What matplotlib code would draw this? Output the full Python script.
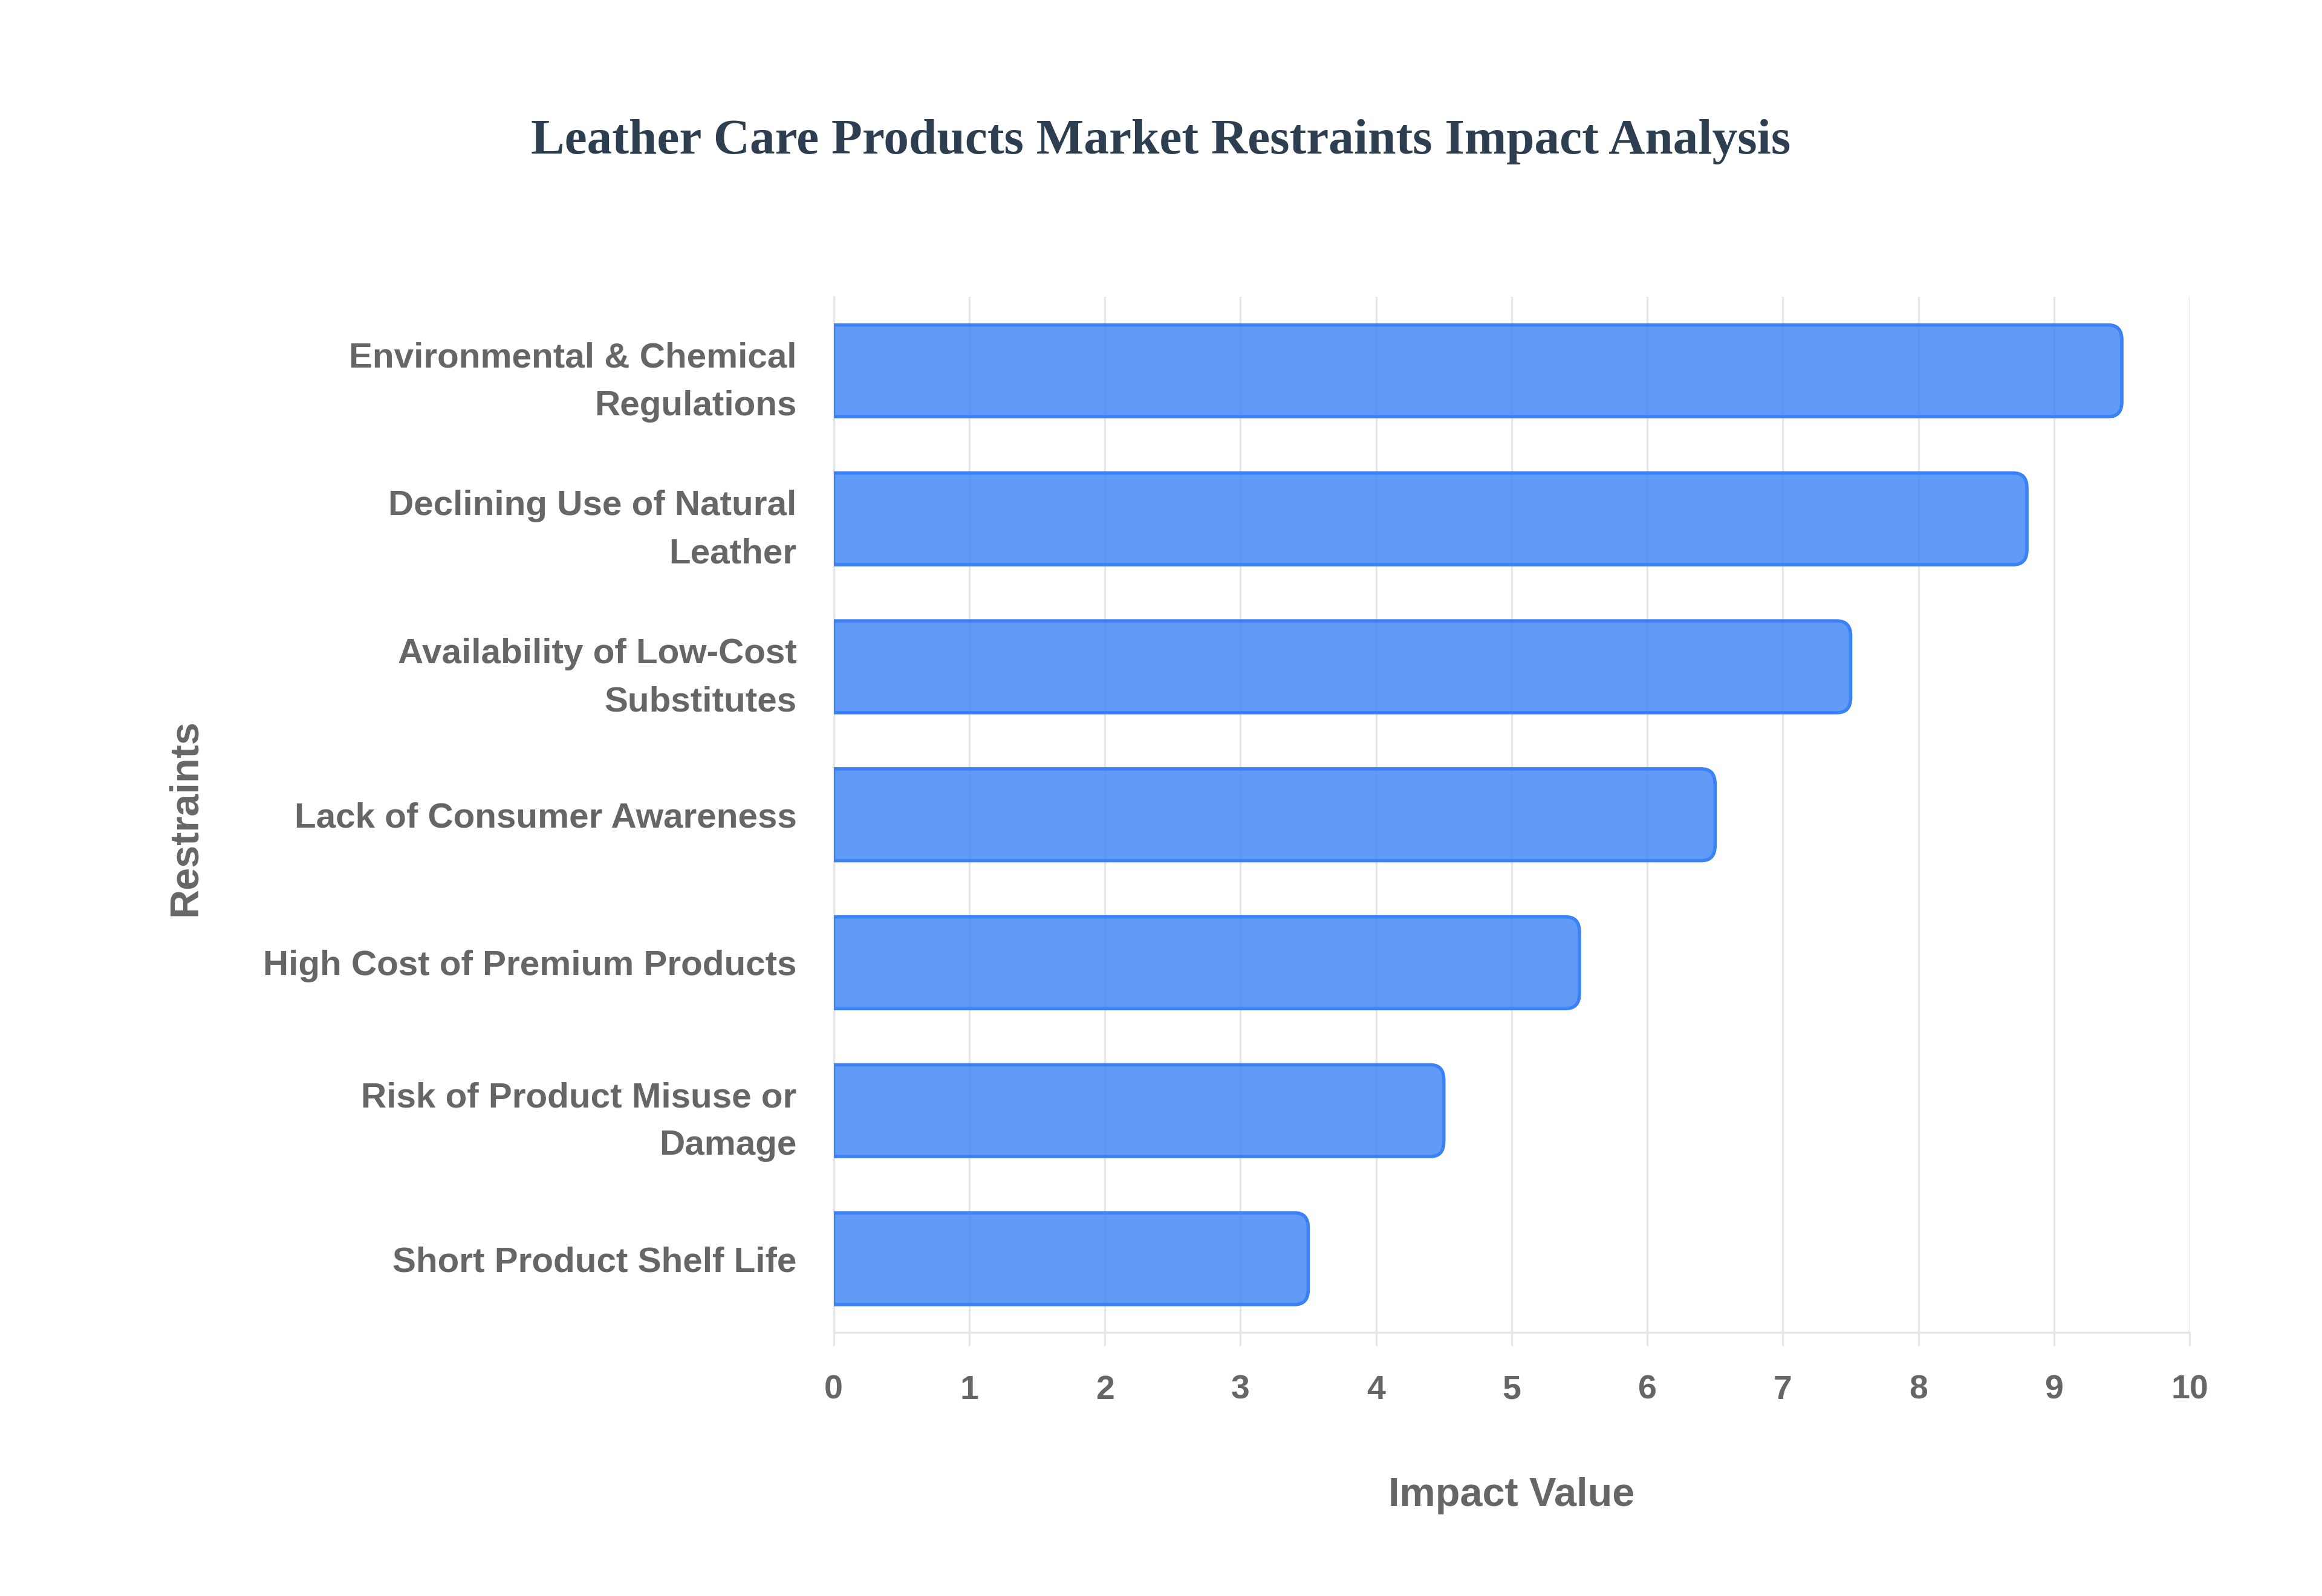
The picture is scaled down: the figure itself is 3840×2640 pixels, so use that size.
import matplotlib.pyplot as plt
from matplotlib.path import Path
from matplotlib.patches import PathPatch

restraints = [
    'Environmental & Chemical\nRegulations',
    'Declining Use of Natural\nLeather',
    'Availability of Low-Cost\nSubstitutes',
    'Lack of Consumer Awareness',
    'High Cost of Premium Products',
    'Risk of Product Misuse or\nDamage',
    'Short Product Shelf Life',
]
impact = [9.5, 8.8, 7.5, 6.5, 5.5, 4.5, 3.5]

fill_color = (59/255, 130/255, 246/255, 0.8)
edge_color = '#3b82f6'
grid_color = '#e6e6e6'
text_gray = '#666666'


def rounded_right(x0, y0, w, h, rx, ry):
    # rectangle with rounded corners on the right end only
    x1, y1 = x0 + w, y0 + h
    verts = [(x0, y0), (x1 - rx, y0), (x1, y0), (x1, y0 + ry),
             (x1, y1 - ry), (x1, y1), (x1 - rx, y1), (x0, y1), (x0, y0)]
    codes = [Path.MOVETO, Path.LINETO, Path.CURVE3, Path.CURVE3,
             Path.LINETO, Path.CURVE3, Path.CURVE3, Path.LINETO, Path.CLOSEPOLY]
    return Path(verts, codes)


fig = plt.figure(figsize=(19.2, 13.2), dpi=200)
ax = fig.add_axes([0.359, 0.165, 0.584, 0.649])

ypos = list(range(len(restraints)))
bars = ax.barh(ypos, impact, height=0.62, color='none', edgecolor='none')
for rect in bars:
    x0, y0 = rect.get_x(), rect.get_y()
    w, h = rect.get_width(), rect.get_height()
    rect.set_visible(False)
    p = rounded_right(x0, y0, w, h, 0.1, 0.1)
    ax.add_patch(PathPatch(p, facecolor=fill_color, edgecolor=edge_color,
                           linewidth=2.0, zorder=3))

ax.set_xlim(0, 10)
ax.set_ylim(len(restraints) - 0.5, -0.5)
ax.set_xticks(range(0, 11))
ax.set_yticks(ypos)
ax.set_yticklabels(restraints, linespacing=1.6)

ax.grid(axis='x', color=grid_color, linewidth=1.2, zorder=0)
ax.set_axisbelow(True)
for side in ['top', 'right']:
    ax.spines[side].set_visible(False)
ax.spines['left'].set_color(grid_color)
ax.spines['bottom'].set_color(grid_color)
ax.spines['left'].set_linewidth(1.2)
ax.spines['bottom'].set_linewidth(1.2)

ax.tick_params(axis='y', length=0, pad=22)
ax.tick_params(axis='x', length=8, width=1.2, color=grid_color, pad=17)
for lbl in ax.get_yticklabels():
    lbl.set_fontfamily('Liberation Sans')
    lbl.set_fontweight('bold')
    lbl.set_fontsize(21)
    lbl.set_color(text_gray)
for lbl in ax.get_xticklabels():
    lbl.set_fontfamily('Liberation Sans')
    lbl.set_fontweight('bold')
    lbl.set_fontsize(20)
    lbl.set_color(text_gray)

ax.set_xlabel('Impact Value', fontfamily='Liberation Sans', fontweight='bold',
              fontsize=24, color=text_gray, labelpad=42)
fig.text(0.08, 0.488, 'Restraints', rotation=90, ha='center', va='center',
         fontfamily='Liberation Sans', fontweight='bold', fontsize=24, color=text_gray)

fig.text(0.5, 0.911, 'Leather Care Products Market Restraints Impact Analysis',
         ha='center', va='center', fontfamily='Liberation Serif', fontweight='bold',
         fontsize=30, color='#2c3e50')

plt.savefig('out.png', dpi=200, facecolor='white')
